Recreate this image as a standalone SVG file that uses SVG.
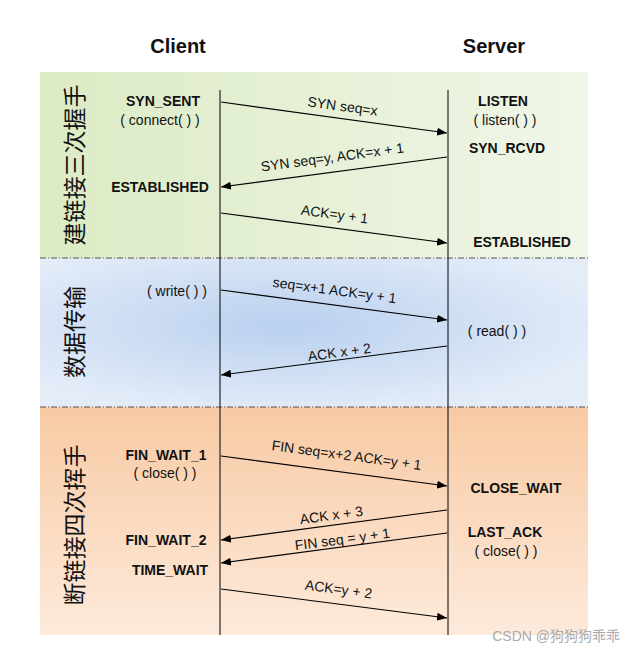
<svg xmlns="http://www.w3.org/2000/svg" width="637" height="655" viewBox="0 0 637 655">
<defs>
<linearGradient id="g" x1="0" y1="0" x2="1" y2="0"><stop offset="0" stop-color="#dcebc4"/><stop offset="1" stop-color="#f0f6e8"/></linearGradient>
<radialGradient id="b" cx="0.45" cy="0.45" r="0.6"><stop offset="0" stop-color="#b9d0ef"/><stop offset="1" stop-color="#e4ecf8"/></radialGradient>
<linearGradient id="o" x1="0" y1="0" x2="0" y2="1"><stop offset="0" stop-color="#f8caa4"/><stop offset="1" stop-color="#fdeadb"/></linearGradient>
<marker id="ah" markerWidth="10" markerHeight="8" refX="10" refY="4" orient="auto" markerUnits="userSpaceOnUse"><path d="M0,0 L10,4 L0,8 Z" fill="#000"/></marker>
<style>
text{font-family:"Liberation Sans",Arial,sans-serif;fill:#111}
.h{font-size:20px;font-weight:bold}
.s{font-size:14px;font-weight:bold}
.n{font-size:14px}
.v{font-family:"Noto Sans CJK SC",sans-serif;font-size:23px}
.a{stroke:#000;stroke-width:1.2;marker-end:url(#ah)}
.sep{stroke:#555;stroke-width:1;stroke-dasharray:6,2,1,2}
</style>
</defs>
<rect x="40" y="72" width="548" height="186" fill="url(#g)"/>
<rect x="40" y="258" width="548" height="149" fill="url(#b)"/>
<rect x="40" y="407" width="548" height="228" fill="url(#o)"/>
<line class="sep" x1="40" y1="258" x2="588" y2="258"/>
<line class="sep" x1="40" y1="407" x2="588" y2="407"/>
<g id="lifelines"><line x1="220" y1="90" x2="220" y2="635" stroke="#000"/><line x1="448" y1="90" x2="448" y2="635" stroke="#000"/></g>
<g id="client"><text class="h" x="178" y="53" text-anchor="middle">Client</text></g>
<g id="server"><text class="h" x="494" y="53" text-anchor="middle">Server</text></g>
<g id="sections">
<text class="v" transform="translate(83,165) rotate(-90)" text-anchor="middle">建链接三次握手</text>
<text class="v" transform="translate(83,332) rotate(-90)" text-anchor="middle">数据传输</text>
<text class="v" transform="translate(83,525) rotate(-90)" text-anchor="middle">断链接四次挥手</text>
</g>
<g id="states" text-anchor="middle">
<text class="s" x="163" y="106">SYN_SENT</text><text class="n" x="160" y="125">( connect( ) )</text>
<text class="s" x="160" y="192">ESTABLISHED</text>
<text class="n" x="177" y="296">( write( ) )</text>
<text class="s" x="166" y="460">FIN_WAIT_1</text><text class="n" x="165" y="478">( close( ) )</text>
<text class="s" x="166" y="545">FIN_WAIT_2</text>
<text class="s" x="170" y="575">TIME_WAIT</text>
<text class="s" x="503" y="106">LISTEN</text><text class="n" x="505" y="125">( listen( ) )</text>
<text class="s" x="507" y="153">SYN_RCVD</text>
<text class="s" x="522" y="247">ESTABLISHED</text>
<text class="n" x="497" y="336">( read( ) )</text>
<text class="s" x="516" y="493">CLOSE_WAIT</text>
<text class="s" x="505" y="537">LAST_ACK</text><text class="n" x="506" y="556">( close( ) )</text>
</g>
<g id="connectors">
<line class="a" x1="221" y1="102" x2="447" y2="133"/>
<line class="a" x1="447" y1="157" x2="221" y2="187"/>
<line class="a" x1="221" y1="213" x2="447" y2="243"/>
<line class="a" x1="221" y1="290" x2="447" y2="320"/>
<line class="a" x1="447" y1="346" x2="221" y2="375"/>
<line class="a" x1="221" y1="456" x2="447" y2="486"/>
<line class="a" x1="447" y1="510" x2="221" y2="540"/>
<line class="a" x1="447" y1="533" x2="221" y2="563"/>
<line class="a" x1="221" y1="589" x2="447" y2="618"/>
</g>
<g id="labels" text-anchor="middle">
<text class="n" transform="translate(342,111) rotate(7.6)">SYN seq=x</text>
<text class="n" transform="translate(333,162) rotate(-7.6)">SYN seq=y, ACK=x + 1</text>
<text class="n" transform="translate(334,219) rotate(7.6)">ACK=y + 1</text>
<text class="n" transform="translate(334,295) rotate(7.6)">seq=x+1 ACK=y + 1</text>
<text class="n" transform="translate(340,357) rotate(-7.6)">ACK x + 2</text>
<text class="n" transform="translate(346,460) rotate(7.6)">FIN seq=x+2 ACK=y + 1</text>
<text class="n" transform="translate(332,520) rotate(-7.6)">ACK x + 3</text>
<text class="n" transform="translate(343,544) rotate(-7.6)">FIN seq = y + 1</text>
<text class="n" transform="translate(338,594) rotate(7.6)">ACK=y + 2</text>
</g>
<text x="620" y="641" text-anchor="end" style="font-family:'Liberation Sans','Noto Sans CJK SC',sans-serif;font-size:14px;fill:#aaa">CSDN @狗狗狗乖乖</text>
</svg>
